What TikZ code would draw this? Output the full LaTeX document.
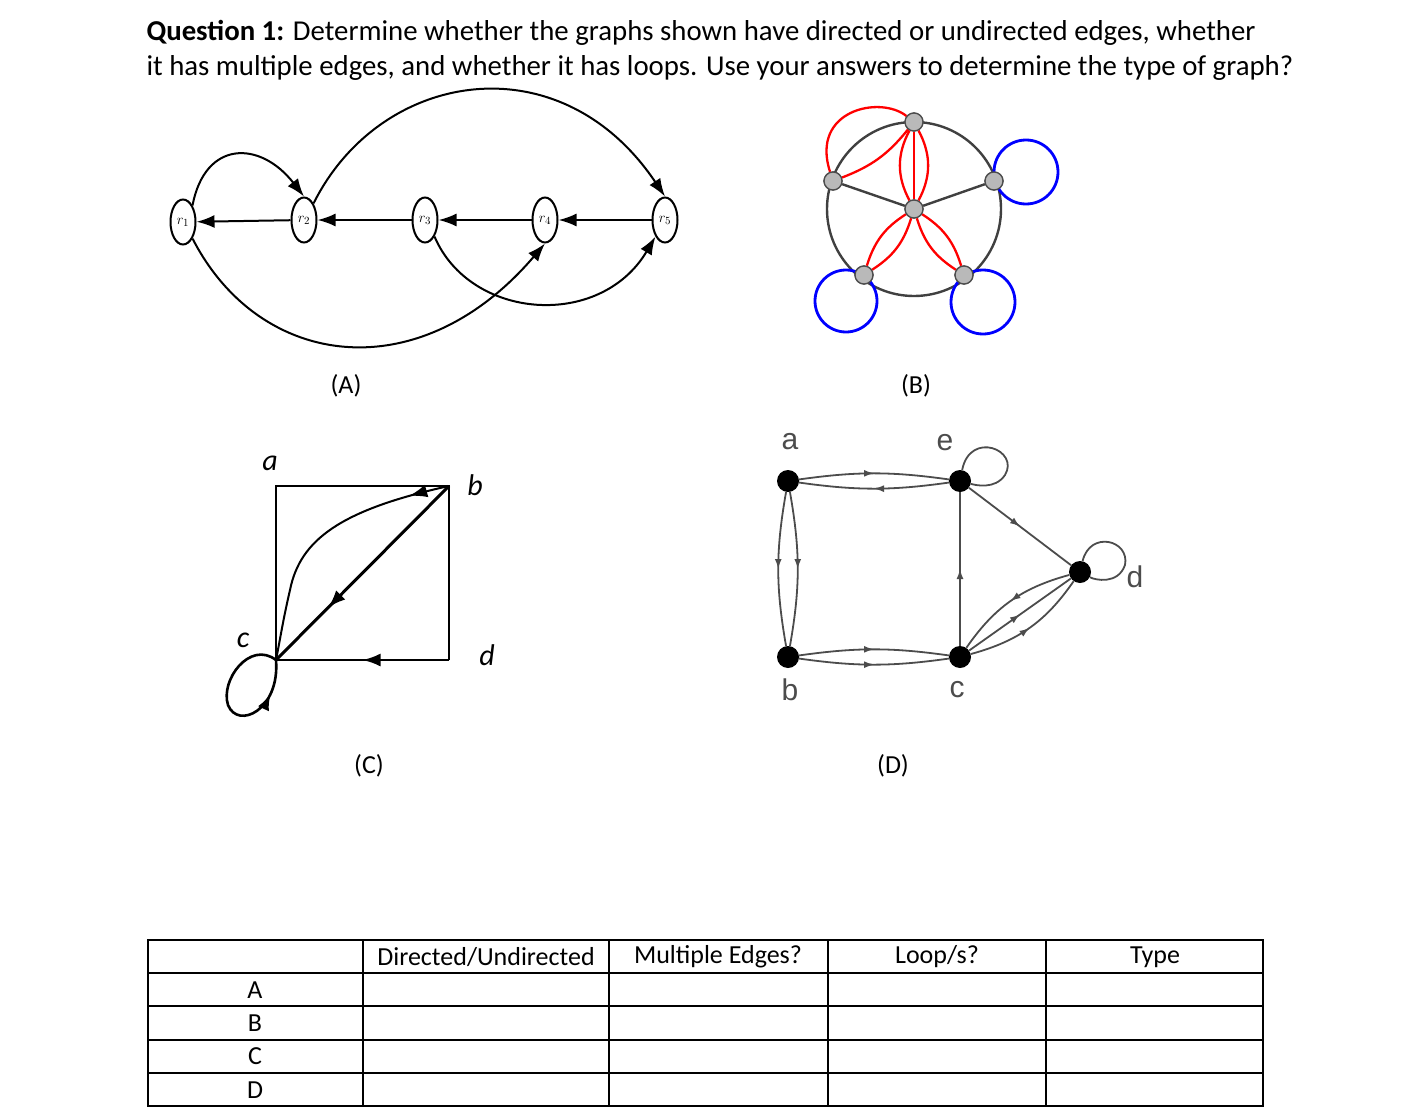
\documentclass[tikz,border=0pt]{standalone}
\usepackage{fontspec}
\setmainfont{Carlito}
\newfontfamily\lab{Liberation Sans}
\usetikzlibrary{arrows.meta,decorations.markings,shapes.geometric}
\begin{document}
\begin{tikzpicture}[x=1pt,y=-1pt,
  rnode/.style={draw,ellipse,line width=2pt,minimum width=25pt,minimum height=45pt,inner sep=0pt,font=\fontsize{15}{15}\selectfont},
  aedge/.style={line width=2pt,-{Latex[length=18pt,width=13pt]}},
  bnode/.style={circle,draw=black!70,fill=gray!55,minimum size=18pt,inner sep=0pt,line width=1.3pt},
  blk/.style={draw=black!75,line width=2.4pt},
  redE/.style={draw=red,line width=2.3pt},
  bluE/.style={draw=blue,line width=2.8pt},
  dn/.style={circle,fill=black,minimum size=22pt,inner sep=0pt},
  dl/.style={font=\lab\fontsize{30}{30}\selectfont,text=black!70},
  de/.style={draw=black!70,line width=1.8pt,postaction={decorate},decoration={markings,mark=at position 0.5 with {\arrow{Latex[length=10pt,width=7pt]}}}},
  cl/.style={font=\fontsize{30}{30}\selectfont\itshape},
  captxt/.style={font=\fontsize{26}{26}\selectfont},
  ctext/.style={font=\fontsize{26}{26}\selectfont}]
\useasboundingbox (0,0) rectangle (1406,1116);
% title
\node[anchor=west,font=\fontsize{28.8}{28.8}\selectfont] (q1) at (143,33) {\textbf{Question 1:} Determine whether the graphs shown have directed or undirected edges, whether};
\node[anchor=west,font=\fontsize{28.8}{28.8}\selectfont] (q2) at (143,68) {it has multiple edges, and whether it has loops. Use your answers to determine the type of graph?};
% Graph A
\node[rnode] (r1) at (183,222) {$r_1$};
\node[rnode] (r2) at (304,220) {$r_2$};
\node[rnode] (r3) at (425,220) {$r_3$};
\node[rnode] (r4) at (545,220) {$r_4$};
\node[rnode] (r5) at (665,220) {$r_5$};
\draw[aedge] (r5) -- (r4);
\draw[aedge] (r4) -- (r3);
\draw[aedge] (r3) -- (r2);
\draw[aedge] (r2) -- (r1);
\draw[aedge] (r1.north east) .. controls (205,140) and (260,140) .. (r2.north);
\draw[aedge] (r2.north east) .. controls (380,70) and (560,40) .. (r5.north);
\draw[aedge] (r1.south east) .. controls (260,370) and (420,390) .. (r4.south);
\draw[aedge] (r3.south east) .. controls (470,320) and (600,330) .. (r5.south west);
\node[captxt] (la) at (346,386) {(A)};
% Graph B
\coordinate (bc) at (914,209);
\draw[blk] (bc) circle (87);
\node[bnode] (bt) at (914,122) {};
\node[bnode] (bl) at (833,181) {};
\node[bnode] (br) at (994,181) {};
\node[bnode] (bbl) at (864,275) {};
\node[bnode] (bbr) at (964,275) {};
\node[bnode] (bm) at (914,209) {};
\draw[bluE] (1026,172) circle (32);
\draw[bluE] (846,301) circle (31);
\draw[bluE] (983,302) circle (32);
\draw[blk] (bm) -- (bl); \draw[blk] (bm) -- (br);
\draw[redE] (bt) -- (bm);
\draw[redE] (bt) to[bend left=28] (bm);
\draw[redE] (bt) to[bend right=28] (bm);
\draw[redE] (bt) to[bend left=15] (bl);
\draw[redE] (bt) .. controls (880,95) and (810,110) .. (bl);
\draw[redE] (bm) to[bend left=20] (bbl);
\draw[redE] (bm) to[bend right=20] (bbl);
\draw[redE] (bm) to[bend left=20] (bbr);
\draw[redE] (bm) to[bend right=20] (bbr);
\node[bnode] at (bt) {}; \node[bnode] at (bl) {}; \node[bnode] at (br) {};
\node[bnode] at (bbl) {}; \node[bnode] at (bbr) {}; \node[bnode] at (bm) {};
\node[captxt] (lb) at (916,386) {(B)};
% Graph C
\coordinate (ca) at (276,486);
\coordinate (cb) at (449,486);
\coordinate (cd) at (449,660);
\coordinate (cc) at (276,660);
\draw[line width=2.4pt] (cc) -- (ca) -- (cb) -- (cd);
\draw[line width=2.4pt,postaction={decorate},decoration={markings,mark=at position 0.5 with {\arrow{Latex[length=18pt,width=13pt]}}}] (cd) -- (cc);
\draw[line width=3pt,postaction={decorate},decoration={markings,mark=at position 0.7 with {\arrow{Latex[length=18pt,width=13pt]}}}] (cb) -- (cc);
\draw[line width=2pt,postaction={decorate},decoration={markings,mark=at position 0.15 with {\arrow{Latex[length=18pt,width=13pt]}}}] (cb) .. controls (340,510) and (300,540) .. (290,590) .. controls (283,620) and (280,640) .. (cc);
\draw[line width=2.6pt,postaction={decorate},decoration={markings,mark=at position 0.8 with {\arrow{Latex[length=16pt,width=12pt]}}}] (cc) .. controls (250,640) and (220,680) .. (228,705) .. controls (238,730) and (280,710) .. (cc);
\node[cl] (lca) at (270,463) {a};
\node[cl] (lcb) at (475,485) {b};
\node[cl] (lcd) at (487,655) {d};
\node[cl] (lcc) at (243,640) {c};
\node[captxt] (lc) at (369,766) {(C)};
% Graph D
\node[dn] (da) at (788,481) {};
\node[dn] (de) at (960,481) {};
\node[dn] (db) at (788,657) {};
\node[dn] (dc) at (960,657) {};
\node[dn] (dd) at (1080,572) {};
\draw[de] (da) to[bend left=8] (de);
\draw[de] (de) to[bend left=8] (da);
\draw[de] (db) to[bend left=8] (dc);
\draw[de] (db) to[bend right=8] (dc);
\draw[de] (da) to[bend left=10] (db);
\draw[de] (da) to[bend right=10] (db);
\draw[de] (dc) -- (de);
\draw[de] (de) -- (dd);
\draw[de] (dd) to[bend right=20] (dc);
\draw[de] (dc) -- (dd);
\draw[de] (dc) to[bend right=20] (dd);
\draw[draw=black!70,line width=1.8pt] (de) .. controls (970,430) and (1020,450) .. (1005,475) .. controls (995,490) and (975,485) .. (de);
\draw[draw=black!70,line width=1.8pt] (dd) .. controls (1090,530) and (1130,540) .. (1125,565) .. controls (1118,585) and (1095,580) .. (dd);
\node[dl] (lda) at (790,442) {a};
\node[dl] (lde) at (945,443) {e};
\node[dl] (ldb) at (790,690) {b};
\node[dl] (ldc) at (957,690) {c};
\node[dl] (ldd) at (1135,577) {d};
\node[captxt] (ld) at (893,766) {(D)};
% table
\draw[line width=1.2pt] (148,940) rectangle (1263,1106);
\foreach \y in {973,1006,1040,1073} \draw[line width=1.2pt] (148,\y) -- (1263,\y);
\foreach \x in {363,609,828,1046} \draw[line width=1.2pt] (\x,940) -- (\x,1106);
\node[ctext] (h1) at (486,957) {Directed/Undirected};
\node[ctext] (h2) at (718,957) {Multiple Edges?};
\node[ctext] (h3) at (937,957) {Loop/s?};
\node[ctext] (h4) at (1155,957) {Type};
\node[ctext] (tA) at (255,990) {A};
\node[ctext] (tB) at (255,1023) {B};
\node[ctext] (tC) at (255,1056) {C};
\node[ctext] (tD) at (255,1090) {D};
\end{tikzpicture}
\end{document}
